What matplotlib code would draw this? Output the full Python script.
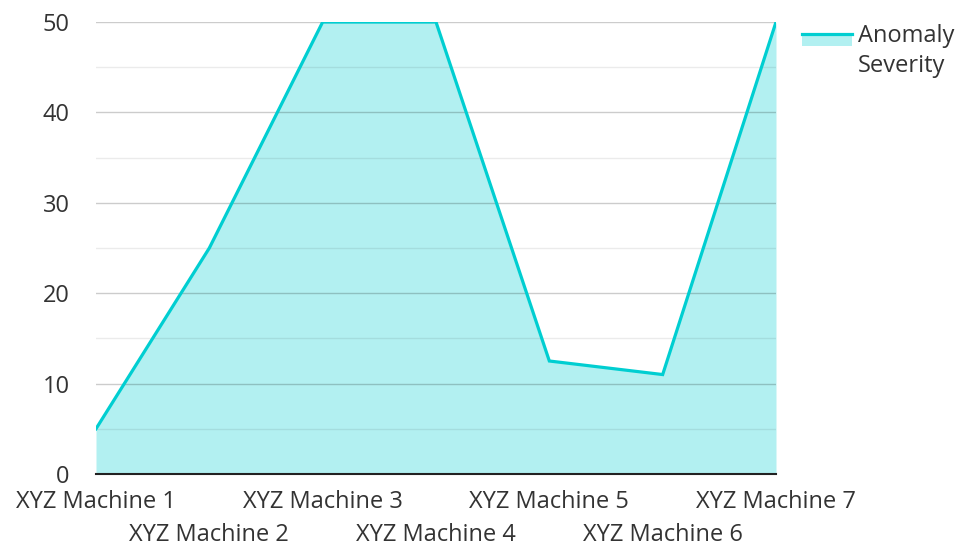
import matplotlib
matplotlib.use("Agg")
import matplotlib.pyplot as plt
from matplotlib.patches import Rectangle
from matplotlib.lines import Line2D
import numpy as np

plt.rcParams['font.family'] = ['Open Sans', 'DejaVu Sans']

# podaci
masine = ["XYZ Machine 1", "XYZ Machine 2", "XYZ Machine 3", "XYZ Machine 4",
          "XYZ Machine 5", "XYZ Machine 6", "XYZ Machine 7"]
ozbiljnost = [5, 25, 50, 50, 12.5, 11, 50]
naziv_serije = "Anomaly\nSeverity"
y_ticks = [0, 10, 20, 30, 40, 50]

boja_linije = "#00CED1"
boja_teksta = "#333333"
velicina = 17

fig = plt.figure(figsize=(9.6, 5.45), dpi=100)
ax = fig.add_axes([96/960, 71/545, 680/960, 452/545])

x = np.arange(len(masine))
ax.fill_between(x, 0, ozbiljnost, color=boja_linije, alpha=0.3, linewidth=0, zorder=1)
ax.plot(x, ozbiljnost, color=boja_linije, linewidth=2.3, zorder=3, solid_joinstyle='miter')

ax.set_xlim(0, len(masine) - 1)
ax.set_ylim(0, 50)

# grid: glavne linije na 10, sporedne na 5
for v in np.arange(5, 50, 10):
    ax.axhline(v, color="black", alpha=0.08, linewidth=1, zorder=2)
for v in y_ticks[1:]:
    ax.axhline(v, color="black", alpha=0.2, linewidth=1, zorder=2)

ax.set_yticks(y_ticks)
ax.set_xticks(x)
ax.set_xticklabels(masine)
ax.tick_params(axis='both', length=0, labelsize=velicina, labelcolor=boja_teksta)
ax.tick_params(axis='y', pad=19)
ax.tick_params(axis='x', pad=11.5)
for i, t in enumerate(ax.xaxis.get_major_ticks()):
    if i % 2 == 1:
        t.set_pad(11.5 + 23.5)

for s in ["top", "right", "left"]:
    ax.spines[s].set_visible(False)
ax.spines["bottom"].set_color("#222222")
ax.spines["bottom"].set_linewidth(1.5)
ax.spines["bottom"].set_zorder(4)

# legenda rucno
fig.add_artist(Rectangle((802/960, 1 - 46/545), 50/960, 13/545, transform=fig.transFigure,
                         facecolor=boja_linije, alpha=0.3, linewidth=0))
fig.add_artist(Line2D([802/960, 852/960], [1 - 34/545, 1 - 34/545], transform=fig.transFigure,
                      color=boja_linije, linewidth=2.3))
fig.text(858/960, 1 - 24/545, naziv_serije, fontsize=velicina, color=boja_teksta,
         va='top', ha='left', linespacing=1.34)

fig.savefig("out.png", dpi=100)
